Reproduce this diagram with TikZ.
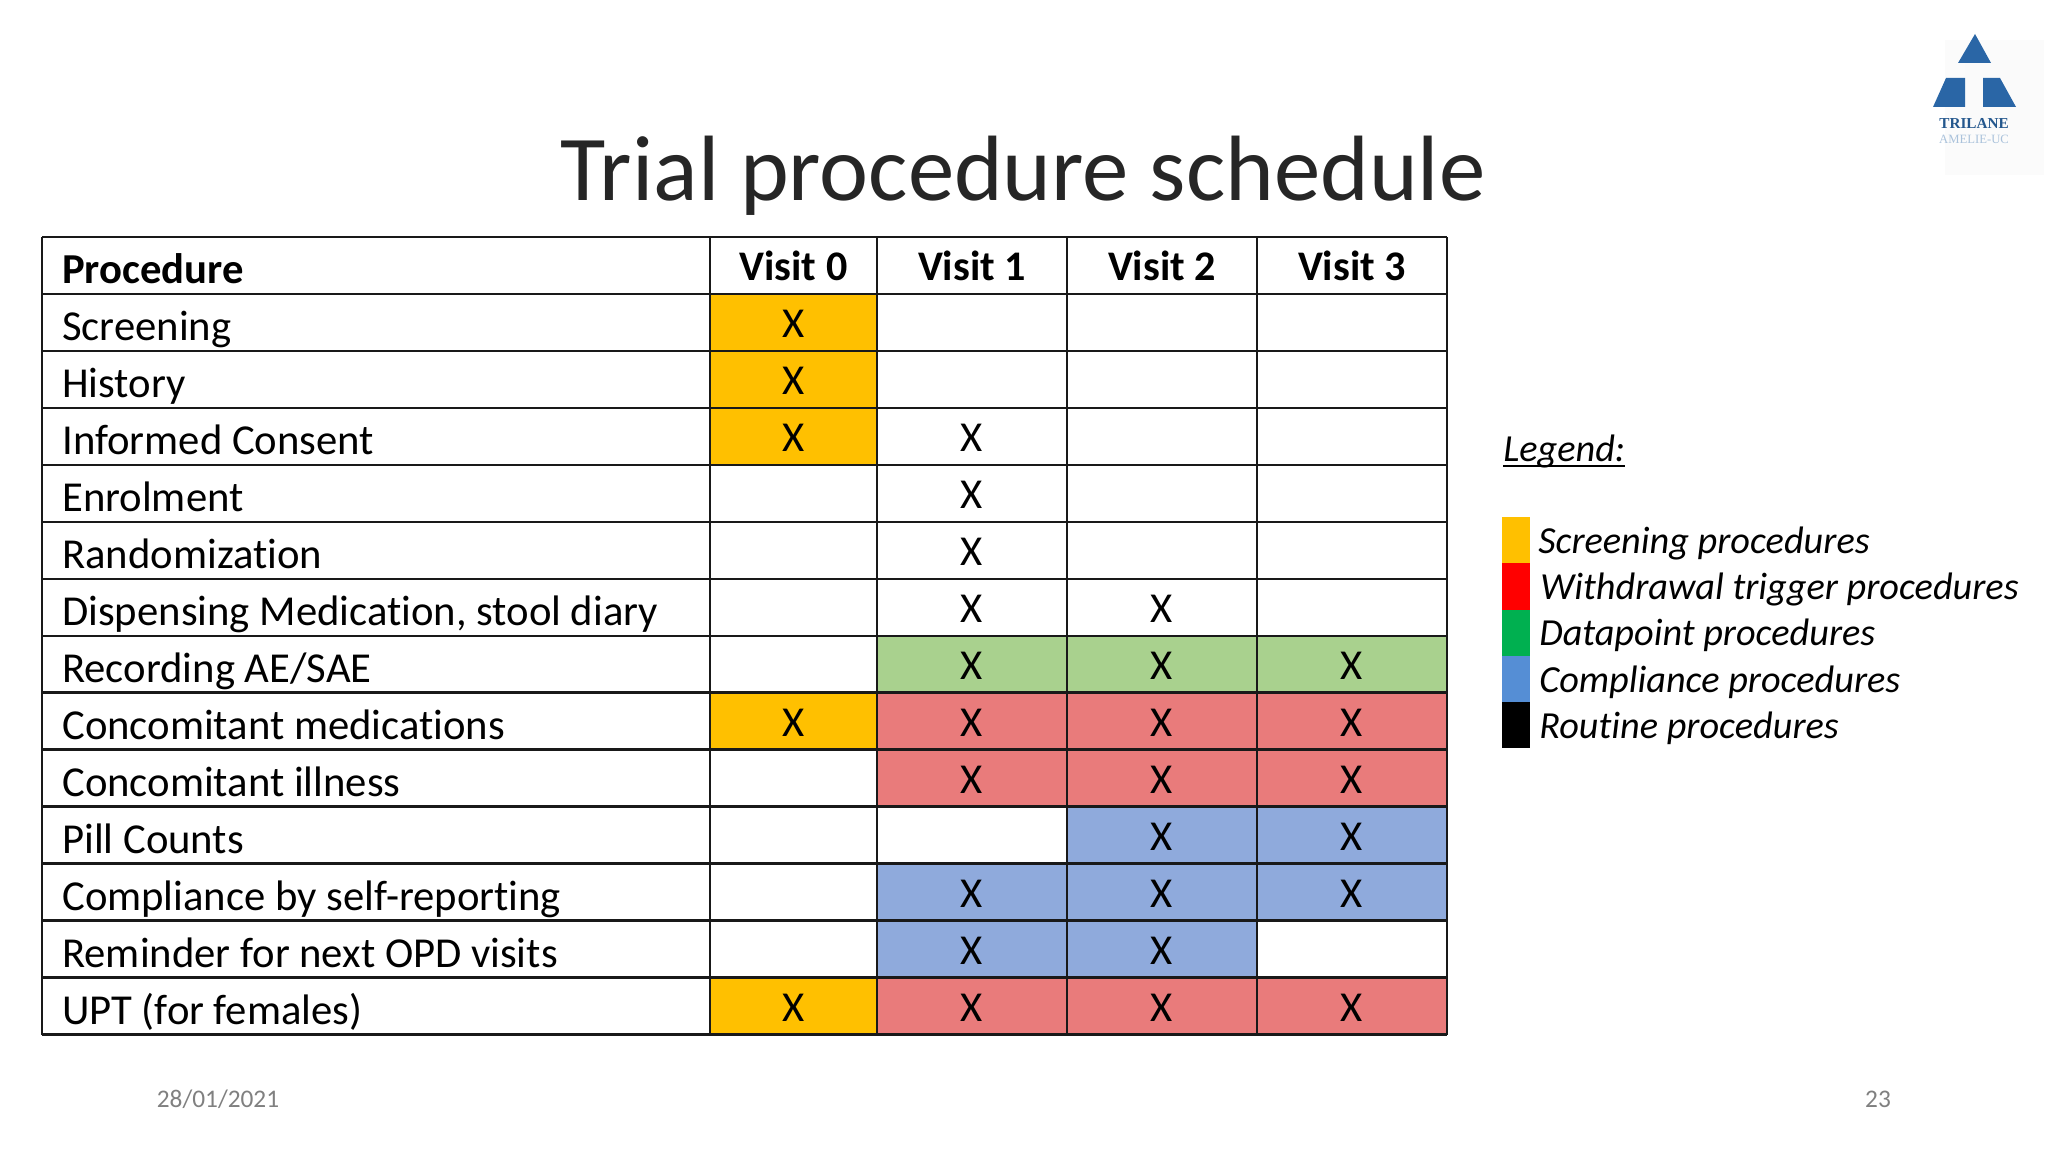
\documentclass[tikz,border=0pt]{standalone}
\usepackage{fontspec}
\setmainfont[Ligatures=CommonOff]{Carlito}
\definecolor{amber}{HTML}{FFC000}
\definecolor{softgreen}{HTML}{A9D18E}
\definecolor{softred}{HTML}{E97B7B}
\definecolor{softblue}{HTML}{8FAADC}
\definecolor{logoblue}{HTML}{2A66A6}
\definecolor{lggreen}{HTML}{00B050}
\definecolor{lgblue}{HTML}{558ED5}
\newcommand{\tfs}{\fontsize{32pt}{34pt}\selectfont}
\newcommand{\lfs}{\fontsize{28.7pt}{32pt}\selectfont\itshape}
\tikzset{
  gridline/.style={line width=1.8pt,black!90},
  rowlabel/.style={anchor=base west,inner sep=0pt,font=\tfs},
  mark cell/.style={anchor=base,inner sep=0pt,font=\tfs},
  headcell/.style={anchor=base,inner sep=0pt,font=\fontsize{31.6pt}{34pt}\selectfont\bfseries},
  legendtext/.style={anchor=base west,inner sep=0pt,font=\lfs},
  footer/.style={anchor=base,inner sep=0pt,text=black!50,font=\fontsize{19pt}{22pt}\selectfont},
}
\begin{document}
\begin{tikzpicture}[x=0.75pt,y=-0.75pt]
\useasboundingbox (0,0) rectangle (2048,1152);
\fill[white] (0,0) rectangle (2048,1152);
% logo
\fill[black!1.5] (1945,40) rectangle (2044,175);
\fill[black!1.5] (1955,50) rectangle (2040,150);
\fill[black!2] (1965,60) rectangle (2030,130);
\fill[black!2] (1975,80) rectangle (2020,115);
\fill[logoblue] (1975,34) -- (1991,63) -- (1958,63) -- cycle;
\fill[logoblue] (1933,107) -- (1946,78) -- (1965,78) -- (1965,107) -- cycle;
\fill[logoblue] (1983,78) -- (2000,78) -- (2016,107) -- (1983,107) -- cycle;
\node[anchor=base,inner sep=0pt,text=logoblue!85!black,font=\fontsize{11.4pt}{12pt}\selectfont] (logotext) at (1974,129) {\fontspec{Liberation Serif}\bfseries TRILANE};
\node[anchor=base,inner sep=0pt,text=logoblue!40,font=\fontsize{9.5pt}{12pt}\selectfont] (logosub) at (1974,144) {\fontspec{Liberation Serif}AMELIE-UC};
% title
\node[anchor=base,inner sep=0pt,text=black!85,font=\fontsize{69.6pt}{74pt}\selectfont] (title) at (1023,200) {Trial procedure schedule};
% cell fills: column left, column right, row index, colour
\foreach \xa/\xb/\r/\c in {
 710/877/1/amber,710/877/2/amber,710/877/3/amber,710/877/8/amber,710/877/13/amber,
 877/1067/7/softgreen,1067/1257/7/softgreen,1257/1447/7/softgreen,
 877/1067/8/softred,1067/1257/8/softred,1257/1447/8/softred,
 877/1067/9/softred,1067/1257/9/softred,1257/1447/9/softred,
 877/1067/13/softred,1067/1257/13/softred,1257/1447/13/softred,
 1067/1257/10/softblue,1257/1447/10/softblue,
 877/1067/11/softblue,1067/1257/11/softblue,1257/1447/11/softblue,
 877/1067/12/softblue,1067/1257/12/softblue}
 \fill[\c] (\xa,237+56.96*\r) rectangle (\xb,237+56.96*\r+56.96);
% grid
\foreach \r in {0,...,14} \draw[gridline] (42,237+56.96*\r) -- (1447,237+56.96*\r);
\foreach \x in {42,710,877,1067,1257,1447} \draw[gridline] (\x,237) -- (\x,1034.5);
% header
\node[rowlabel,font=\fontsize{32pt}{34pt}\selectfont\bfseries] (hproc) at (62,283.5) {Procedure};
\node[headcell] (hv0) at (793.5,280.5) {Visit 0};
\node[headcell] (hv1) at (972,280.5) {Visit 1};
\node[headcell] (hv2) at (1162,280.5) {Visit 2};
\node[headcell] (hv3) at (1352,280.5) {Visit 3};
% row labels
\foreach \r/\t in {1/Screening,2/History,3/Informed Consent,4/Enrolment,5/Randomization,
 6/{Dispensing Medication, stool diary},7/Recording AE\slash SAE,8/Concomitant medications,9/Concomitant illness,
 10/Pill Counts,11/Compliance by self-reporting,12/Reminder for next OPD visits,13/UPT (for females)}
 \node[rowlabel] (row\r) at (62,284+56.96*\r) {\t};
% marks: column centre, row
\foreach \x/\r in {793.5/1,793.5/2,793.5/3,793.5/8,793.5/13,
 972/3,972/4,972/5,972/6,972/7,972/8,972/9,972/11,972/12,972/13,
 1162/6,1162/7,1162/8,1162/9,1162/10,1162/11,1162/12,1162/13,
 1352/7,1352/8,1352/9,1352/10,1352/11,1352/13}
 \node[mark cell] (m\x-\r) at (\x,281+56.96*\r) {X};
% legend
\node[legendtext] (legendhead) at (1503,461) {Legend:};
\draw[line width=1.6pt,black] (legendhead.base west)++(0,5) -- ([yshift=-3.75pt]legendhead.base east);
\foreach \ya/\yb/\c in {517/563/amber,563/610/red,610/656/lggreen,656/702/lgblue,702/748/black}
 \fill[\c] (1502,\ya) rectangle (1530,\yb);
\foreach \x/\y/\t in {1538/553/Screening procedures,1540/599/Withdrawal trigger procedures,1539/645/Datapoint procedures,1539/692/Compliance procedures,1539/738/Routine procedures}
 \node[legendtext] (lg\y) at (\x,\y) {\t};
% footer
\node[footer] (date) at (218,1107) {28/01/2021};
\node[footer] (page) at (1878,1107) {23};
\end{tikzpicture}
\end{document}
